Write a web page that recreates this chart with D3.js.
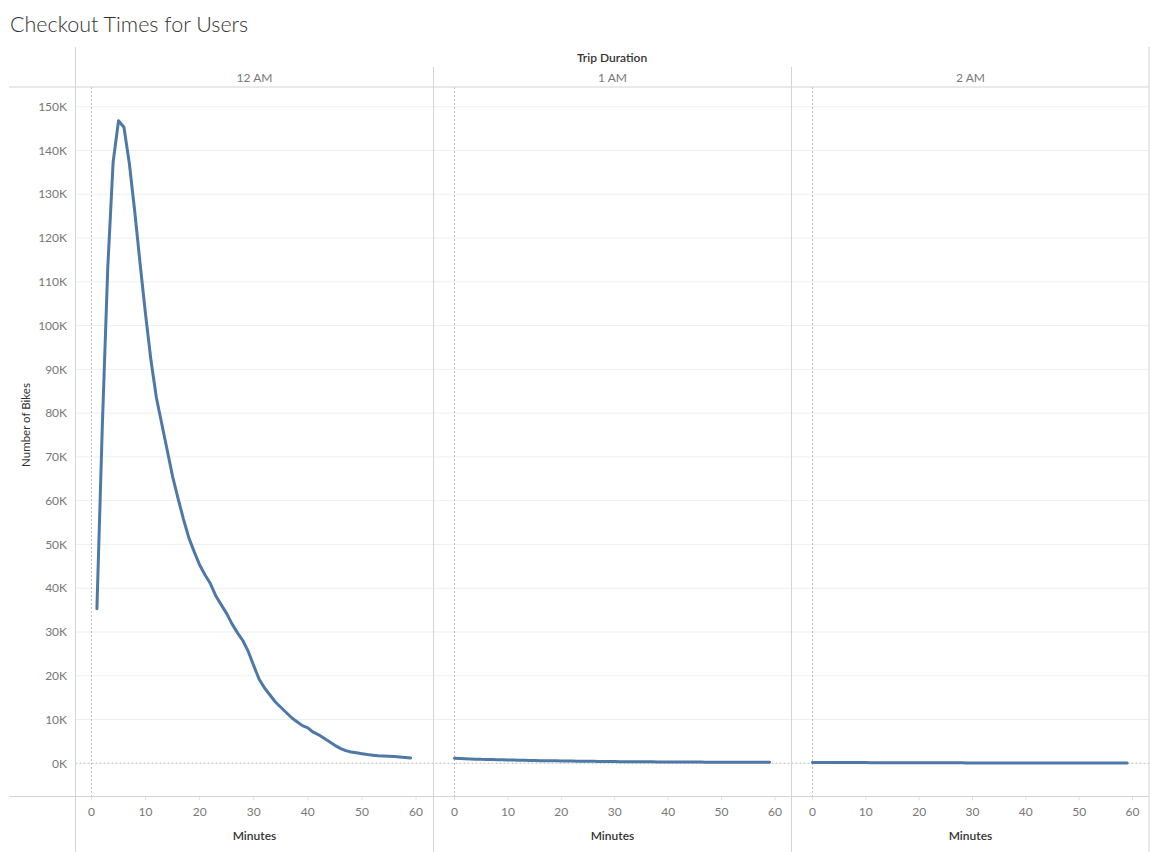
<!DOCTYPE html>
<html>

<head>
    <meta charset="utf-8">
    <title>Checkout Times for Users</title>
    <style>
        body {
            margin: 0;
            background: #fff;
        }

        text {
            font-family: Lato, "Open Sans", sans-serif;
        }
    </style>
</head>

<body>
    <script src="https://d3js.org/d3.v7.min.js"></script>
    <script>
        // data (number of bikes per trip minute)
        let hours = ["12 AM", "1 AM", "2 AM"];
        let startMinute = [1, 0, 0];
        let bikes12am = [35300, 77000, 113000, 137400, 146800, 145300, 137000, 126000, 114000, 102500,
            92000, 83500, 77500, 71500, 65500, 60500, 55800, 51500, 48300, 45300,
            43000, 41000, 38200, 36200, 34200, 31800, 29800, 28000, 25500, 22300,
            19200, 17200, 15600, 14000, 12800, 11600, 10400, 9500, 8600, 8100,
            7100, 6500, 5700, 4900, 4100, 3400, 2900, 2600, 2400, 2200,
            2000, 1850, 1700, 1650, 1600, 1550, 1450, 1350, 1200];
        let bikes1am = [1140, 1080, 1030, 980, 950, 900, 880, 840, 800, 790,
            750, 730, 700, 690, 650, 640, 610, 600, 570, 560,
            550, 520, 510, 490, 480, 460, 440, 435, 420, 400,
            395, 380, 370, 365, 350, 340, 338, 330, 320, 315,
            305, 300, 292, 288, 280, 278, 270, 266, 260, 256,
            250, 246, 240, 238, 235, 232, 230, 228, 225, 222];
        let bikes2am = [210, 205, 200, 195, 190, 185, 180, 175, 170, 165,
            160, 150, 145, 140, 135, 130, 130, 125, 120, 120,
            115, 115, 110, 110, 105, 105, 100, 100, 100, 95,
            95, 95, 90, 90, 90, 88, 86, 85, 84, 82,
            80, 80, 78, 76, 75, 74, 72, 70, 70, 68,
            66, 65, 64, 62, 60, 60, 58, 56, 55, 54];
        let series = [bikes12am, bikes1am, bikes2am];
        let yTicks = [0, 10000, 20000, 30000, 40000, 50000, 60000, 70000, 80000, 90000, 100000,
            110000, 120000, 130000, 140000, 150000];
        let xTicks = [0, 10, 20, 30, 40, 50, 60];

        // layout
        let W = 1151, H = 852;
        let paneLeft = [75.5, 433.5, 791.5];
        let paneW = 358;
        let xPad = [[16, 340.5], [21, 341.5], [21, 341]];
        let headTop = 47, colTop = 67, paneTop = 87, paneBottom = 796.5;
        let lineCol = "#d4d4d4";
        let blue = "#4e79a7";

        let svg = d3.select("body").append("svg")
            .attr("width", W).attr("height", H);

        let y = d3.scaleLinear().domain([0, 150000]).range([763.3, 106.7]);

        // title
        svg.append("text")
            .attr("x", 10).attr("y", 32)
            .style("font-size", "21.5px").style("font-weight", 300)
            .attr("fill", "#333")
            .text("Checkout Times for Users");

        // horizontal gridlines across all panes
        svg.selectAll(".grid")
            .data(yTicks.filter(function(d) { return d > 0; }))
            .enter().append("line")
            .attr("x1", paneLeft[0]).attr("x2", 1149)
            .attr("y1", function(d) { return y(d); })
            .attr("y2", function(d) { return y(d); })
            .attr("stroke", "#efefef").attr("stroke-width", 1);

        // zero line
        svg.append("line")
            .attr("x1", paneLeft[0]).attr("x2", 1149)
            .attr("y1", y(0)).attr("y2", y(0))
            .attr("stroke", "#bdbdbd").attr("stroke-dasharray", "2,2");

        // y axis labels
        svg.selectAll(".ylab")
            .data(yTicks)
            .enter().append("text")
            .attr("x", 67)
            .attr("y", function(d) { return y(d); })
            .attr("dy", "0.35em")
            .attr("text-anchor", "end")
            .style("font-size", "12px")
            .attr("fill", "#777")
            .text(function(d) { return (d / 1000) + "K"; });

        svg.append("text")
            .attr("transform", "translate(30,425) rotate(-90)")
            .attr("text-anchor", "middle")
            .style("font-size", "11.5px")
            .attr("fill", "#333")
            .text("Number of Bikes");

        // column header
        svg.append("text")
            .attr("x", 612).attr("y", 57.5).attr("dy", "0.35em")
            .attr("text-anchor", "middle")
            .style("font-size", "12px").style("font-weight", 600)
            .attr("fill", "#333")
            .text("Trip Duration");

        let line = d3.line()
            .x(function(d) { return d[0]; })
            .y(function(d) { return y(d[1]); });

        hours.forEach(function(h, i) {
            let L = paneLeft[i];
            let x = d3.scaleLinear().domain([0, 60]).range([L + xPad[i][0], L + xPad[i][1]]);

            svg.append("text")
                .attr("x", L + paneW / 2).attr("y", 77.5).attr("dy", "0.35em")
                .attr("text-anchor", "middle")
                .style("font-size", "12px")
                .attr("fill", "#777")
                .text(h);

            // x = 0 reference line
            svg.append("line")
                .attr("x1", x(0)).attr("x2", x(0))
                .attr("y1", paneTop).attr("y2", paneBottom)
                .attr("stroke", "#bdbdbd").attr("stroke-dasharray", "2,2");

            // ticks and labels
            svg.selectAll(".xt" + i)
                .data(xTicks)
                .enter().append("line")
                .attr("x1", function(d) { return x(d); })
                .attr("x2", function(d) { return x(d); })
                .attr("y1", paneBottom).attr("y2", paneBottom + 4)
                .attr("stroke", "#e2e2e2");

            svg.selectAll(".xl" + i)
                .data(xTicks)
                .enter().append("text")
                .attr("x", function(d) { return x(d); })
                .attr("y", 812).attr("dy", "0.35em")
                .attr("text-anchor", "middle")
                .style("font-size", "12px")
                .attr("fill", "#777")
                .text(function(d) { return d; });

            svg.append("text")
                .attr("x", L + paneW / 2).attr("y", 835.5).attr("dy", "0.35em")
                .attr("text-anchor", "middle")
                .style("font-size", "12px").style("font-weight", 600)
                .attr("fill", "#333")
                .text("Minutes");

            let pts = series[i].map(function(v, j) {
                return [x(startMinute[i] + j), v];
            });
            svg.append("path")
                .datum(pts)
                .attr("d", line)
                .attr("fill", "none")
                .attr("stroke", blue)
                .attr("stroke-width", 3)
                .attr("stroke-linejoin", "round")
                .attr("stroke-linecap", "round");
        });

        // frame lines
        svg.append("line")
            .attr("x1", 9).attr("x2", 1149)
            .attr("y1", paneTop).attr("y2", paneTop)
            .attr("stroke", lineCol);
        svg.append("line")
            .attr("x1", 9).attr("x2", 1149)
            .attr("y1", paneBottom).attr("y2", paneBottom)
            .attr("stroke", lineCol);
        svg.append("line")
            .attr("x1", paneLeft[0]).attr("x2", paneLeft[0])
            .attr("y1", headTop).attr("y2", H)
            .attr("stroke", lineCol);
        svg.append("line")
            .attr("x1", 1149).attr("x2", 1149)
            .attr("y1", headTop).attr("y2", H)
            .attr("stroke", lineCol);
        [paneLeft[1], paneLeft[2]].forEach(function(px) {
            svg.append("line")
                .attr("x1", px).attr("x2", px)
                .attr("y1", colTop).attr("y2", H)
                .attr("stroke", lineCol);
        });
    </script>
</body>

</html>
